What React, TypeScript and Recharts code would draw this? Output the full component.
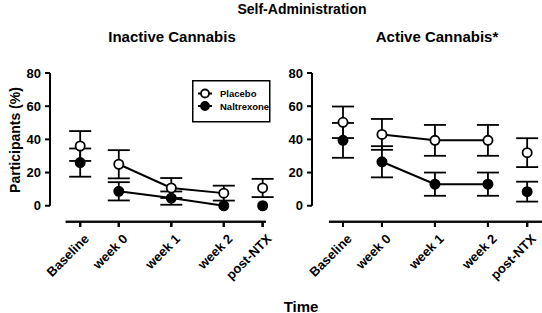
import React from 'react'
import { ComposedChart, Line, Scatter, ErrorBar, XAxis, YAxis, ReferenceLine } from 'recharts'

// time points (Baseline sits a bit before week 0, post-NTX a bit after week 2)
const timeLabels = ['Baseline', 'week 0', 'week 1', 'week 2', 'post-NTX']
const timeValues = [-0.735, 0, 1, 2, 2.74]
const yTicks = [0, 20, 40, 60, 80]

// Inactive cannabis
const inactivePlacebo = [36, 25, 10.7, 7.6, 10.7]
const inactivePlaceboErr = [9, 8.5, 6, 4.5, 5.5]
const inactiveNaltrexone = [26, 8.7, 4.6, 0, 0]
const inactiveNaltrexoneErr = [8.5, 5.5, 4, 0, 0]

// Active cannabis
const activePlacebo = [50.3, 43, 39.4, 39.4, 32]
const activePlaceboErr = [9.5, 9.3, 9.3, 9.3, 8.7]
const activeNaltrexone = [39.4, 26.5, 13, 13, 8.5]
const activeNaltrexoneErr = [10.5, 9.4, 7, 7, 6]

const FONT = '"Liberation Sans", Arial, sans-serif'
const Y_MIN = -9.8
const X_AXIS_Y = -9.6
const CHART_H = 313
const M_TOP = 73
const M_BOTTOM = 11
const X_AXIS_H = 80
const Y_AXIS_W = 50

const buildRows = (pl: number[], plErr: number[], nx: number[], nxErr: number[]) =>
  timeValues.map((t, i) => {
    const onTreatment = i >= 1 && i <= 3
    return {
      t,
      placebo: pl[i],
      placeboErr: plErr[i],
      naltrexone: nx[i],
      naltrexoneErr: nxErr[i],
      placeboLine: onTreatment ? pl[i] : null,
      naltrexoneLine: onTreatment ? nx[i] : null,
    }
  })

const TimeTick = (props: any) => {
  const { x, y, payload } = props
  const idx = timeValues.indexOf(payload.value)
  return (
    <g transform={`translate(${x},${y})`}>
      <line x1={0} y1={-7} x2={0} y2={-2} stroke="#0a0a0a" strokeWidth={2} />
      <text
        x={0}
        y={0}
        dy="0.72em"
        textAnchor="end"
        transform="translate(3,4) rotate(-45)"
        fontFamily={FONT}
        fontWeight="bold"
        fontSize={13}
        fill="#000"
      >
        {timeLabels[idx]}
      </text>
    </g>
  )
}

const dot = (fill: string) => (props: any) => (
  <circle cx={props.cx} cy={props.cy} r={4.6} fill={fill} stroke="#000" strokeWidth={1.8} />
)

// legend box kept outside recharts (a Legend would steal plot height)
const LegendBox = () => (
  <svg width={80} height={44} style={{ position: 'absolute', left: 192, top: 80 }}>
    <rect x={0.75} y={0.75} width={77} height={41} fill="#fff" stroke="#000" strokeWidth={1.5} />
    <line x1={6} y1={13.5} x2={20} y2={13.5} stroke="#000" strokeWidth={2} />
    <circle cx={13} cy={13.5} r={4} fill="#fff" stroke="#000" strokeWidth={1.8} />
    <text x={28} y={17} fontFamily={FONT} fontWeight="bold" fontSize={9.5} fill="#000">Placebo</text>
    <line x1={6} y1={26} x2={20} y2={26} stroke="#000" strokeWidth={2} />
    <circle cx={13} cy={26} r={4} fill="#000" stroke="#000" strokeWidth={1.8} />
    <text x={28} y={29.5} fontFamily={FONT} fontWeight="bold" fontSize={9.5} fill="#000">Naltrexone</text>
  </svg>
)

const Label = ({ x, y, size, text, rotate = 0 }: { x: number; y: number; size: number; text: string; rotate?: number }) => (
  <div
    style={{
      position: 'absolute',
      left: x,
      top: y,
      transform: `translate(-50%, -50%) rotate(${rotate}deg)`,
      fontFamily: FONT,
      fontWeight: 'bold',
      fontSize: size,
      lineHeight: 1,
      whiteSpace: 'nowrap',
      color: '#000',
    }}
  >
    {text}
  </div>
)

interface PanelSpec {
  left: number
  width: number
  marginRight: number
  xDomain: [number, number]
  axisStart: number
  axisEnd: number
}

const inactiveSpec: PanelSpec = { left: 0, width: 280, marginRight: 10, xDomain: [-1.31, 2.88], axisStart: -1.01, axisEnd: 2.8 }
const activeSpec: PanelSpec = { left: 262, width: 280, marginRight: 0, xDomain: [-1.32, 3.02], axisStart: -1.0, axisEnd: 3.02 }

// same linear mapping recharts uses for the panel, for the detached time axis
const panelScale = (s: PanelSpec) => {
  const x0 = s.left + Y_AXIS_W
  const w = s.width - Y_AXIS_W - s.marginRight
  const top = M_TOP
  const bottom = CHART_H - M_BOTTOM - X_AXIS_H
  return {
    x: (t: number) => x0 + ((t - s.xDomain[0]) / (s.xDomain[1] - s.xDomain[0])) * w,
    y: (v: number) => bottom - ((v - Y_MIN) / (80 - Y_MIN)) * (bottom - top),
  }
}

const TimeAxis = ({ spec }: { spec: PanelSpec }) => {
  const sc = panelScale(spec)
  const y = sc.y(X_AXIS_Y)
  return (
    <g>
      <line x1={sc.x(spec.axisStart)} y1={y} x2={sc.x(spec.axisEnd)} y2={y} stroke="#0a0a0a" strokeWidth={2} />
      {timeValues.map((t) => (
        <line key={t} x1={sc.x(t)} y1={y} x2={sc.x(t)} y2={y + 5} stroke="#0a0a0a" strokeWidth={2} />
      ))}
    </g>
  )
}

function Panel({ spec, rows }: { spec: PanelSpec; rows: any[] }) {
  const { left, width, marginRight, xDomain, axisStart, axisEnd } = spec
  return (
    <div style={{ position: 'absolute', left, top: 0 }}>
      <ComposedChart width={width} height={CHART_H} data={rows} margin={{ top: M_TOP, right: marginRight, bottom: M_BOTTOM, left: 0 }}>
        <XAxis
          dataKey="t"
          type="number"
          domain={xDomain}
          ticks={timeValues}
          interval={0}
          allowDataOverflow
          axisLine={false}
          tickLine={{ stroke: '#000', strokeWidth: 2 }}
          tickSize={5}
          height={X_AXIS_H}
          tick={<TimeTick />}
        />
        <YAxis
          type="number"
          domain={[Y_MIN, 80]}
          ticks={yTicks}
          interval={0}
          allowDataOverflow
          width={Y_AXIS_W}
          axisLine={false}
          tickLine={{ stroke: '#000', strokeWidth: 2 }}
          tickSize={5}
          tickMargin={4}
          tick={{ fill: '#000', fontSize: 13, fontWeight: 'bold', fontFamily: FONT }}
        />
        <ReferenceLine segment={[{ x: xDomain[0], y: 0 }, { x: xDomain[0], y: 80 }]} stroke="#000" strokeWidth={2} ifOverflow="visible" />
        <ReferenceLine segment={[{ x: axisStart, y: X_AXIS_Y }, { x: axisEnd, y: X_AXIS_Y }]} stroke="#050505" strokeWidth={2} ifOverflow="visible" />
        <Line dataKey="naltrexoneLine" stroke="#000" strokeWidth={2} dot={false} isAnimationActive={false} />
        <Line dataKey="placeboLine" stroke="#000" strokeWidth={2} dot={false} isAnimationActive={false} />
        <Scatter dataKey="naltrexone" shape={dot('#000')} isAnimationActive={false}>
          <ErrorBar dataKey="naltrexoneErr" direction="y" width={11} stroke="#000" strokeWidth={1.8} />
        </Scatter>
        <Scatter dataKey="placebo" shape={dot('#fff')} isAnimationActive={false}>
          <ErrorBar dataKey="placeboErr" direction="y" width={11} stroke="#000" strokeWidth={1.8} />
        </Scatter>
      </ComposedChart>
    </div>
  )
}

export default function App() {
  const inactiveRows = buildRows(inactivePlacebo, inactivePlaceboErr, inactiveNaltrexone, inactiveNaltrexoneErr)
  const activeRows = buildRows(activePlacebo, activePlaceboErr, activeNaltrexone, activeNaltrexoneErr)
  return (
    <div style={{ position: 'absolute', left: 0, top: 0, width: 542, height: 313 }}>
      <Panel spec={inactiveSpec} rows={inactiveRows} />
      <Panel spec={activeSpec} rows={activeRows} />
      <svg width={542} height={CHART_H} style={{ position: 'absolute', left: 0, top: 0, pointerEvents: 'none' }}>
        <TimeAxis spec={inactiveSpec} />
        <TimeAxis spec={activeSpec} />
      </svg>
      <LegendBox />
      <Label x={302} y={9} size={14} text="Self-Administration" />
      <Label x={172} y={36} size={15} text="Inactive Cannabis" />
      <Label x={437} y={36} size={15} text="Active Cannabis*" />
      <Label x={301} y={306} size={15} text="Time" />
      <Label x={15} y={140} size={14} text="Participants (%)" rotate={-90} />
    </div>
  )
}
